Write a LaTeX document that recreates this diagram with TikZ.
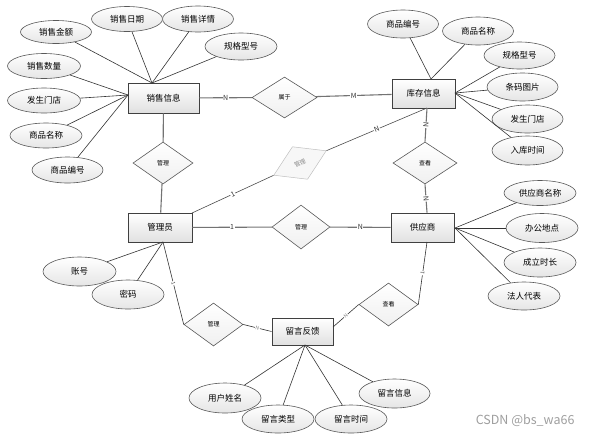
\documentclass[tikz,border=0pt]{standalone}
\usepackage{fontspec}
\setmainfont{Noto Sans CJK SC}
\usetikzlibrary{shapes.geometric}
\begin{document}
\begin{tikzpicture}[x=1pt,y=-1pt,
  ent/.style={draw=black!75, line width=0.9pt, top color=white, bottom color=black!12, inner sep=0pt, font=\fontsize{8.5}{8.5}\selectfont},
  attr/.style={ellipse, draw=black!65, line width=0.6pt, top color=white, bottom color=black!10, minimum width=71, minimum height=26, inner sep=0pt, font=\fontsize{8.5}{8.5}\selectfont},
  rel/.style={diamond, draw=black!65, line width=0.6pt, top color=white, bottom color=black!6, minimum width=60, minimum height=42, inner sep=0pt, font=\fontsize{6}{6}\selectfont},
  ghost/.style={diamond, draw=black!25, line width=0.5pt, fill=black!3, text=black!45, minimum width=58, minimum height=36, inner sep=0pt, font=\fontsize{6}{6}\selectfont},
  conn/.style={draw=black!55, line width=1.1pt},
  aline/.style={draw=black!80, line width=0.6pt},
  lab/.style={fill=white, inner sep=0.6pt, font=\fontsize{7}{7}\selectfont, text=black!80}
]
\useasboundingbox (0,0) rectangle (593,437);

% entities
\node[ent, minimum width=71, minimum height=30] (sx) at (163.5,98) {销售信息};
\node[ent, minimum width=63, minimum height=29] (kc) at (423.5,93.5) {库存信息};
\node[ent, minimum width=64, minimum height=29] (gly) at (160,227.5) {管理员};
\node[ent, minimum width=63, minimum height=29] (gys) at (422.5,227.5) {供应商};
\node[ent, minimum width=61, minimum height=27] (ly) at (302.5,331.5) {留言反馈};

% relations
\node[rel, minimum width=65, minimum height=41] (r1) at (284.5,97.5) {属于};
\node[rel] (r2) at (163,163) {管理};
\node[ghost, rotate=25] (r3) at (300,163) {管理};
\node[rel, minimum width=64] (r4) at (425,163) {查看};
\node[rel, minimum width=58, minimum height=44] (r5) at (301,227) {管理};
\node[rel, minimum width=59, minimum height=43] (r6) at (213.5,324.5) {管理};
\node[rel, minimum width=59, minimum height=43] (r7) at (388.5,304.5) {查看};

% attribute anchor points
\coordinate (sxT) at (152,83);
\coordinate (sxL) at (128,95);
\coordinate (kcT) at (431,79);
\coordinate (kcR) at (455,93);
\coordinate (kcB) at (427,108);
\coordinate (gysR) at (455,228);
\coordinate (gysB) at (427,242);
\coordinate (glyB) at (163,242);
\coordinate (glyTR) at (192,213);
\coordinate (lyB) at (305,345);
\coordinate (lyR) at (333,327);

% attributes of 销售信息
\node[attr, minimum height=23] (a1) at (56,32) {销售金额};
\node[attr, minimum height=25] (a2) at (127,19) {销售日期};
\node[attr, minimum height=26] (a3) at (198,19) {销售详情};
\node[attr, minimum height=27, minimum width=72] (a4) at (241,46.5) {规格型号};
\node[attr, minimum width=73, minimum height=25] (a5) at (44,66) {销售数量};
\node[attr, minimum width=73, minimum height=25] (a6) at (44,100.5) {发生门店};
\node[attr, minimum width=72, minimum height=25] (a7) at (46,135.5) {商品名称};
\node[attr, minimum width=71, minimum height=26] (a8) at (67.5,170) {商品编号};
\foreach \n in {a1,a2,a3,a4} \draw[aline] (\n) -- (sxT);
\foreach \n in {a5,a6,a7,a8} \draw[aline] (\n) -- (sxL);

% attributes of 库存信息
\node[attr, minimum height=28] (b1) at (403,24) {商品编号};
\node[attr, minimum height=28] (b2) at (478,31) {商品名称};
\node[attr, minimum height=27] (b3) at (519.5,55.5) {规格型号};
\node[attr, minimum height=28] (b4) at (522.5,87) {条码图片};
\node[attr, minimum height=28] (b5) at (527.5,119) {发生门店};
\node[attr, minimum height=29] (b6) at (527.5,150.5) {入库时间};
\foreach \n in {b1,b2} \draw[aline] (\n) -- (kcT);
\foreach \n in {b3,b4,b5,b6} \draw[aline] (\n) -- (kcR);

% attributes of 供应商
\node[attr, minimum width=72, minimum height=25] (c1) at (540,193) {供应商名称};
\node[attr, minimum width=72, minimum height=29] (c2) at (542,228) {办公地点};
\node[attr, minimum width=72, minimum height=29] (c3) at (540,262.5) {成立时长};
\node[attr, minimum width=72, minimum height=28] (c4) at (524,296) {法人代表};
\foreach \n in {c1,c2,c3,c4} \draw[aline] (\n) -- (gysR);

% attributes of 管理员
\node[attr, minimum width=73, minimum height=29] (d1) at (79.5,271.5) {账号};
\node[attr, minimum width=72, minimum height=29] (d2) at (128,294.5) {密码};
\foreach \n in {d1,d2} \draw[aline] (\n) -- (glyB);

% attributes of 留言反馈
\node[attr, minimum width=72, minimum height=30] (e1) at (225,398) {用户姓名};
\node[attr, minimum width=72, minimum height=28] (e2) at (278,419) {留言类型};
\node[attr, minimum width=72, minimum height=28] (e3) at (351,419) {留言时间};
\node[attr, minimum width=71, minimum height=29] (e4) at (394.5,393.5) {留言信息};
\foreach \n in {e1,e2,e3,e4} \draw[aline] (\n) -- (lyB);

% relationship connectors
\draw[conn] (sx) -- node[lab]{N} (r1);
\draw[conn] (r1) -- node[lab]{M} (kc);
\draw[conn] (sx) -- (r2);
\draw[conn] (r2) -- (gly);
\draw[aline, draw=black!70] (glyTR) -- node[lab, sloped]{1} (r3.west);
\draw[aline, draw=black!70] (r3.east) -- node[lab, sloped]{N} (kcB);
\draw[conn] (kcB) -- node[lab, sloped]{N} (r4.north);
\draw[conn] (r4.south) -- node[lab, sloped]{N} (gysB |- gys.north);
\draw[conn] (gly) -- node[lab]{1} (r5);
\draw[conn] (r5) -- node[lab]{N} (gys);
\draw[aline] (glyB) -- node[lab, sloped, font=\fontsize{5}{5}\selectfont]{1} (r6.west);
\draw[aline] (r6.east) -- node[lab, sloped, font=\fontsize{5}{5}\selectfont, text=black!50]{N} (ly.west);
\draw[aline] (lyR) -- node[lab, sloped, font=\fontsize{5}{5}\selectfont, text=black!50]{N} (r7.west);
\draw[aline] (r7.east) -- node[lab, sloped, font=\fontsize{5}{5}\selectfont]{1} (gysB);

% watermark
\node[text=black!38, font=\fontsize{12.5}{12.5}\selectfont, anchor=east] (wm) at (578,421) {CSDN @bs\_wa66};
\end{tikzpicture}
\end{document}
